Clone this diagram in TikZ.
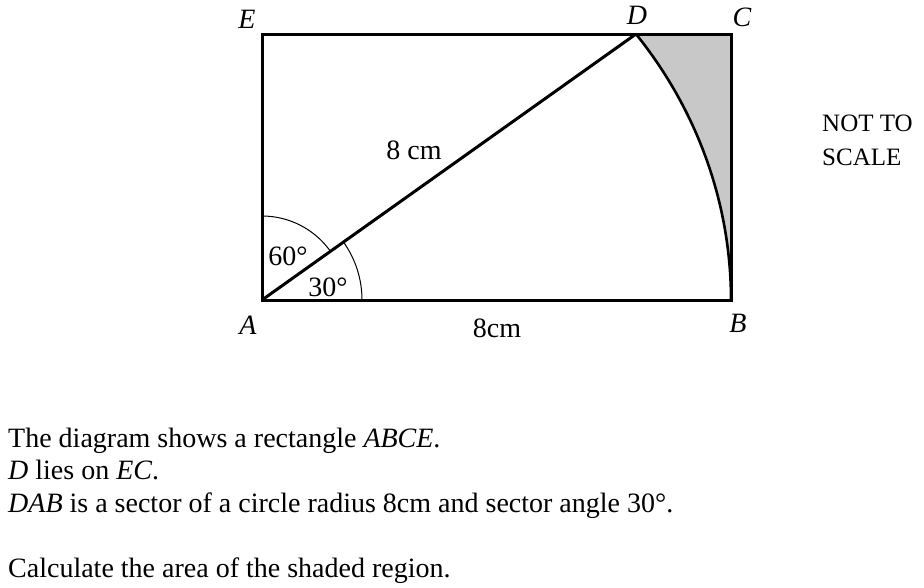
\documentclass[tikz,border=0pt]{standalone}
\usepackage{fontspec}
\setmainfont{Liberation Serif}
\definecolor{regiongray}{RGB}{200,200,200}
\begin{document}
\begin{tikzpicture}[x=1pt,y=-1pt,
  lbl/.style={font=\fontsize{28}{33}\selectfont, inner sep=0pt},
  note/.style={font=\fontsize{25}{30}\selectfont, inner sep=0pt, anchor=base west},
  body/.style={font=\fontsize{28}{33}\selectfont, inner sep=0pt, anchor=base west},
  edge3/.style={line width=3pt, line join=miter},
  arcthin/.style={line width=1pt}]
\useasboundingbox (0,0) rectangle (924,587);
\coordinate (A) at (262,300);
\coordinate (B) at (731,300);
\coordinate (C) at (731,34);
\coordinate (E) at (262,34);
\coordinate (D) at (636,34);
% shaded region
\fill[fill=regiongray] (D) -- (C) -- (B) arc[start angle=0, end angle=-37.12, x radius=469, y radius=440.8] -- cycle;
% angle arcs
\draw[arcthin] (A) ++(0,-84) arc[start angle=-90, end angle=-35.4, radius=84];
\draw[arcthin] (A) ++(100,0) arc[start angle=0, end angle=-35.4, radius=100];
% rectangle, radius and arc
\draw[edge3] (A) -- (B) -- (C) -- (E) -- cycle;
\draw[edge3] (A) -- (D);
\draw[line width=2.6pt] (B) arc[start angle=0, end angle=-37.12, x radius=469, y radius=440.8];
% vertex labels
\node[lbl] (lE) at (247,19) {\itshape E};
\node[lbl] (lD) at (637,15) {\itshape D};
\node[lbl] (lC) at (742,17) {\itshape C};
\node[lbl] (lA) at (248,325) {\itshape A};
\node[lbl] (lB) at (738,323) {\itshape B};
% measurement labels
\node[lbl] (lAD) at (414,150) {8 cm};
\node[lbl] (lAB) at (497,328) {8cm};
\node[lbl] (l60) at (288,256) {60°};
\node[lbl] (l30) at (328,287) {30°};
% not to scale
\node[note] (n1) at (822,131) {NOT TO};
\node[note] (n2) at (822,165) {SCALE};
% body text
\node[body] (t1) at (8,447) {The diagram shows a rectangle \textit{ABCE}.};
\node[body] (t2) at (8,479) {\textit{D} lies on \textit{EC}.};
\node[body] (t3) at (8,512) {\textit{DAB} is a sector of a circle radius 8cm and sector angle 30°.};
\node[body] (t4) at (8,577) {Calculate the area of the shaded region.};
\end{tikzpicture}
\end{document}
